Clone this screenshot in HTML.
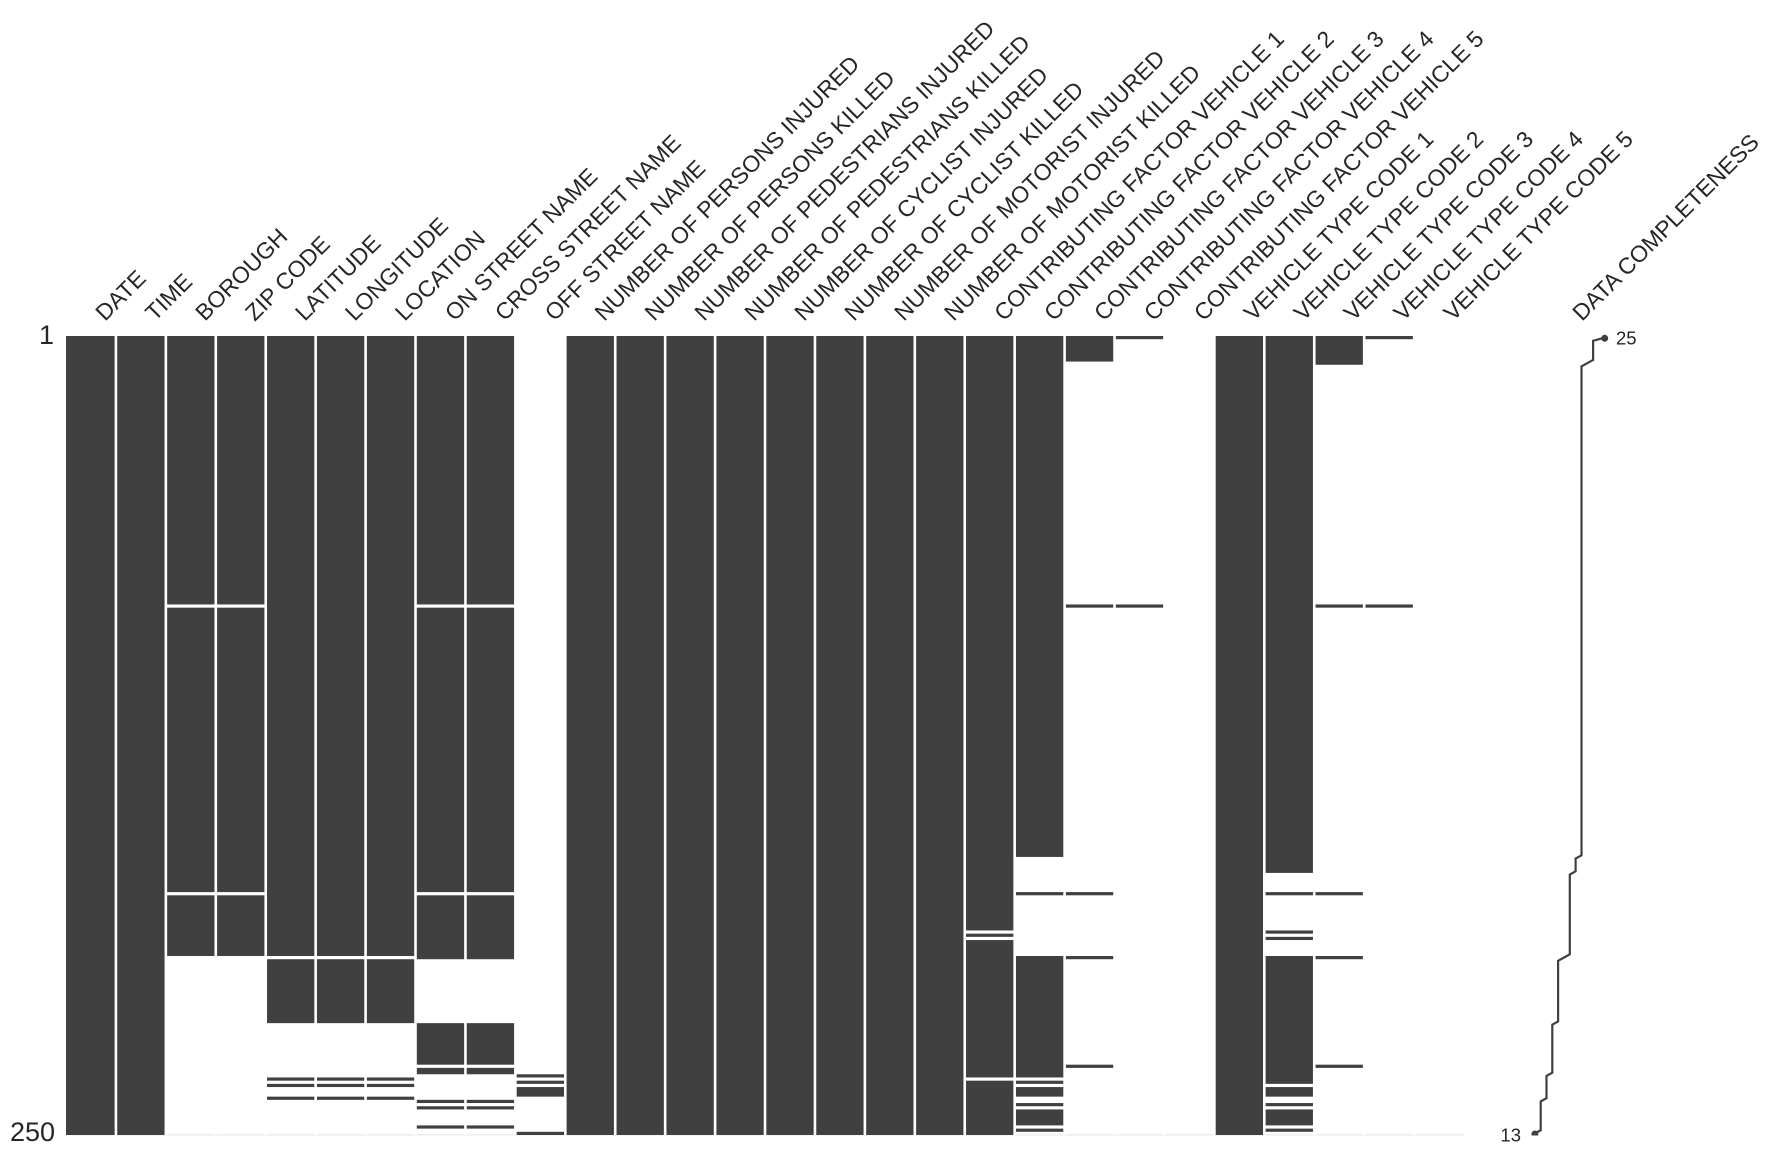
<!DOCTYPE html>
<html>
<head>
<meta charset="utf-8">
<style>
  html, body { margin: 0; padding: 0; background: #ffffff; }
  body { width: 1782px; height: 1157px; overflow: hidden; }
  svg { display: block; }
  text { font-family: "Liberation Sans", Arial, sans-serif; fill: #262626; }
</style>
</head>
<body>
<svg width="1782" height="1157" viewBox="0 0 1782 1157" xmlns="http://www.w3.org/2000/svg">
  <defs>
    <clipPath id="axclip"><rect x="1480" y="330" width="160" height="805.5"/></clipPath>
  </defs>

  <!-- faint bottom edge -->
  <rect x="66" y="1134" width="1398" height="1.5" fill="#ececec"/>

  <g fill="#404040">
    <!-- cols 0-1 full -->
    <rect x="66" y="336" width="99.86" height="799"/>
    <!-- cols 2,3 BOROUGH / ZIP -->
    <rect x="165.86" y="336" width="99.86" height="268.46"/>
    <rect x="165.86" y="607.66" width="99.86" height="284.44"/>
    <rect x="165.86" y="895.30" width="99.86" height="60.72"/>
    <!-- cols 4,5,6 LAT / LON / LOCATION -->
    <rect x="265.72" y="336" width="149.79" height="620.02"/>
    <rect x="265.72" y="959.22" width="149.79" height="63.92"/>
    <rect x="265.72" y="1077.47" width="149.79" height="3.2"/>
    <rect x="265.72" y="1083.86" width="149.79" height="3.2"/>
    <rect x="265.72" y="1096.65" width="149.79" height="3.2"/>
    <!-- cols 7,8 ON / CROSS STREET -->
    <rect x="415.51" y="336" width="99.86" height="268.46"/>
    <rect x="415.51" y="607.66" width="99.86" height="284.44"/>
    <rect x="415.51" y="895.30" width="99.86" height="63.92"/>
    <rect x="415.51" y="1023.14" width="99.86" height="41.55"/>
    <rect x="415.51" y="1067.88" width="99.86" height="6.4"/>
    <rect x="415.51" y="1099.84" width="99.86" height="3.2"/>
    <rect x="415.51" y="1106.24" width="99.86" height="3.2"/>
    <rect x="415.51" y="1125.41" width="99.86" height="3.2"/>
    <!-- col 9 OFF STREET -->
    <rect x="515.37" y="1074.28" width="49.93" height="3.2"/>
    <rect x="515.37" y="1080.67" width="49.93" height="3.2"/>
    <rect x="515.37" y="1087.06" width="49.93" height="9.59"/>
    <rect x="515.37" y="1131.80" width="49.93" height="3.2"/>
    <!-- cols 10-17 full -->
    <rect x="565.30" y="336" width="399.44" height="799"/>
    <!-- col 18 CF1 -->
    <rect x="964.74" y="336" width="49.93" height="594.46"/>
    <rect x="964.74" y="933.65" width="49.93" height="3.2"/>
    <rect x="964.74" y="940.04" width="49.93" height="137.43"/>
    <rect x="964.74" y="1080.67" width="49.93" height="54.33"/>
    <!-- col 19 CF2 -->
    <rect x="1014.67" y="336" width="49.93" height="520.95"/>
    <rect x="1014.67" y="892.10" width="49.93" height="3.2"/>
    <rect x="1014.67" y="956.02" width="49.93" height="121.45"/>
    <rect x="1014.67" y="1080.67" width="49.93" height="3.2"/>
    <rect x="1014.67" y="1087.06" width="49.93" height="9.59"/>
    <rect x="1014.67" y="1103.04" width="49.93" height="3.2"/>
    <rect x="1014.67" y="1109.43" width="49.93" height="15.98"/>
    <rect x="1014.67" y="1128.61" width="49.93" height="3.2"/>
    <!-- col 20 CF3 -->
    <rect x="1064.60" y="336" width="49.93" height="25.57"/>
    <rect x="1064.60" y="604.46" width="49.93" height="3.2"/>
    <rect x="1064.60" y="892.10" width="49.93" height="3.2"/>
    <rect x="1064.60" y="956.02" width="49.93" height="3.2"/>
    <rect x="1064.60" y="1064.69" width="49.93" height="3.2"/>
    <!-- col 21 CF4 -->
    <rect x="1114.53" y="336" width="49.93" height="3.2"/>
    <rect x="1114.53" y="604.46" width="49.93" height="3.2"/>
    <!-- col 23 VT1 full -->
    <rect x="1214.39" y="336" width="49.93" height="799"/>
    <!-- col 24 VT2 -->
    <rect x="1264.32" y="336" width="49.93" height="536.93"/>
    <rect x="1264.32" y="892.10" width="49.93" height="3.2"/>
    <rect x="1264.32" y="930.46" width="49.93" height="3.2"/>
    <rect x="1264.32" y="936.85" width="49.93" height="3.2"/>
    <rect x="1264.32" y="956.02" width="49.93" height="127.84"/>
    <rect x="1264.32" y="1087.06" width="49.93" height="9.59"/>
    <rect x="1264.32" y="1103.04" width="49.93" height="3.2"/>
    <rect x="1264.32" y="1109.43" width="49.93" height="15.98"/>
    <rect x="1264.32" y="1128.61" width="49.93" height="3.2"/>
    <!-- col 25 VT3 -->
    <rect x="1314.25" y="336" width="49.93" height="28.76"/>
    <rect x="1314.25" y="604.46" width="49.93" height="3.2"/>
    <rect x="1314.25" y="892.10" width="49.93" height="3.2"/>
    <rect x="1314.25" y="956.02" width="49.93" height="3.2"/>
    <rect x="1314.25" y="1064.69" width="49.93" height="3.2"/>
    <!-- col 26 VT4 -->
    <rect x="1364.18" y="336" width="49.93" height="3.2"/>
    <rect x="1364.18" y="604.46" width="49.93" height="3.2"/>
  </g>

  <!-- white column separators -->
  <g fill="#ffffff">
    <rect x="114.63" y="336" width="2.6" height="799"/>
    <rect x="164.56" y="336" width="2.6" height="799"/>
    <rect x="214.49" y="336" width="2.6" height="799"/>
    <rect x="264.42" y="336" width="2.6" height="799"/>
    <rect x="314.35" y="336" width="2.6" height="799"/>
    <rect x="364.28" y="336" width="2.6" height="799"/>
    <rect x="414.21" y="336" width="2.6" height="799"/>
    <rect x="464.14" y="336" width="2.6" height="799"/>
    <rect x="514.07" y="336" width="2.6" height="799"/>
    <rect x="564.00" y="336" width="2.6" height="799"/>
    <rect x="613.93" y="336" width="2.6" height="799"/>
    <rect x="663.86" y="336" width="2.6" height="799"/>
    <rect x="713.79" y="336" width="2.6" height="799"/>
    <rect x="763.72" y="336" width="2.6" height="799"/>
    <rect x="813.65" y="336" width="2.6" height="799"/>
    <rect x="863.58" y="336" width="2.6" height="799"/>
    <rect x="913.51" y="336" width="2.6" height="799"/>
    <rect x="963.44" y="336" width="2.6" height="799"/>
    <rect x="1013.37" y="336" width="2.6" height="799"/>
    <rect x="1063.30" y="336" width="2.6" height="799"/>
    <rect x="1113.23" y="336" width="2.6" height="799"/>
    <rect x="1163.16" y="336" width="2.6" height="799"/>
    <rect x="1213.09" y="336" width="2.6" height="799"/>
    <rect x="1263.02" y="336" width="2.6" height="799"/>
    <rect x="1312.95" y="336" width="2.6" height="799"/>
    <rect x="1362.88" y="336" width="2.6" height="799"/>
    <rect x="1412.81" y="336" width="2.6" height="799"/>
  </g>

  <!-- y tick labels -->
  <text x="54" y="344" font-size="27" text-anchor="end">1</text>
  <text x="55" y="1141" font-size="27" text-anchor="end">250</text>

  <!-- column labels -->
  <g font-size="23">
    <text transform="translate(105,322) rotate(-45)">DATE</text>
    <text transform="translate(154.93,322) rotate(-45)">TIME</text>
    <text transform="translate(204.86,322) rotate(-45)">BOROUGH</text>
    <text transform="translate(254.79,322) rotate(-45)">ZIP CODE</text>
    <text transform="translate(304.72,322) rotate(-45)">LATITUDE</text>
    <text transform="translate(354.65,322) rotate(-45)">LONGITUDE</text>
    <text transform="translate(404.58,322) rotate(-45)">LOCATION</text>
    <text transform="translate(454.51,322) rotate(-45)">ON STREET NAME</text>
    <text transform="translate(504.44,322) rotate(-45)">CROSS STREET NAME</text>
    <text transform="translate(554.37,322) rotate(-45)">OFF STREET NAME</text>
    <text transform="translate(604.30,322) rotate(-45)">NUMBER OF PERSONS INJURED</text>
    <text transform="translate(654.23,322) rotate(-45)">NUMBER OF PERSONS KILLED</text>
    <text transform="translate(704.16,322) rotate(-45)">NUMBER OF PEDESTRIANS INJURED</text>
    <text transform="translate(754.09,322) rotate(-45)">NUMBER OF PEDESTRIANS KILLED</text>
    <text transform="translate(804.02,322) rotate(-45)">NUMBER OF CYCLIST INJURED</text>
    <text transform="translate(853.95,322) rotate(-45)">NUMBER OF CYCLIST KILLED</text>
    <text transform="translate(903.88,322) rotate(-45)">NUMBER OF MOTORIST INJURED</text>
    <text transform="translate(953.81,322) rotate(-45)">NUMBER OF MOTORIST KILLED</text>
    <text transform="translate(1003.74,322) rotate(-45)">CONTRIBUTING FACTOR VEHICLE 1</text>
    <text transform="translate(1053.67,322) rotate(-45)">CONTRIBUTING FACTOR VEHICLE 2</text>
    <text transform="translate(1103.60,322) rotate(-45)">CONTRIBUTING FACTOR VEHICLE 3</text>
    <text transform="translate(1153.53,322) rotate(-45)">CONTRIBUTING FACTOR VEHICLE 4</text>
    <text transform="translate(1203.46,322) rotate(-45)">CONTRIBUTING FACTOR VEHICLE 5</text>
    <text transform="translate(1253.39,322) rotate(-45)">VEHICLE TYPE CODE 1</text>
    <text transform="translate(1303.32,322) rotate(-45)">VEHICLE TYPE CODE 2</text>
    <text transform="translate(1353.25,322) rotate(-45)">VEHICLE TYPE CODE 3</text>
    <text transform="translate(1403.18,322) rotate(-45)">VEHICLE TYPE CODE 4</text>
    <text transform="translate(1453.11,322) rotate(-45)">VEHICLE TYPE CODE 5</text>
    <text transform="translate(1582,322) rotate(-45)">DATA COMPLETENESS</text>
  </g>

  <!-- sparkline -->
  <polyline fill="none" stroke="#404040" stroke-width="2.2" stroke-linejoin="miter"
    points="1604.7,337.6 1593.1,340.8 1593.1,360.0 1587.2,363.2 1581.5,366.4 1581.5,855.3 1575.6,858.5 1575.6,871.3 1569.8,874.5 1569.8,954.4 1563.9,957.6 1558.1,960.8 1558.1,1021.5 1552.3,1024.7 1552.3,1072.7 1546.5,1075.9 1546.5,1098.2 1540.7,1101.4 1540.7,1130.2 1534.9,1133.4"/>
  <circle cx="1604.7" cy="338.3" r="3.5" fill="#404040"/>
  <g clip-path="url(#axclip)">
    <circle cx="1534.9" cy="1134" r="3.5" fill="#404040"/>
  </g>
  <text x="1616" y="344.5" font-size="18.5">25</text>
  <text x="1521" y="1141.5" font-size="18.5" text-anchor="end">13</text>
</svg>
</body>
</html>
